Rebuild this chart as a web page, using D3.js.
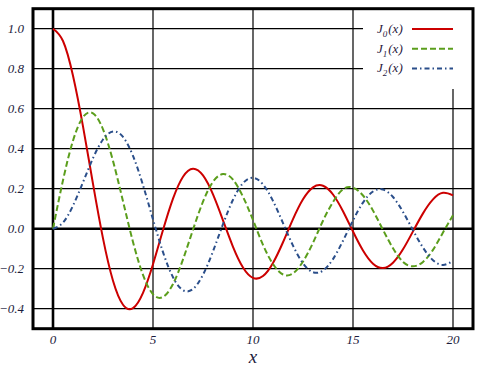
<!DOCTYPE html>
<html lang="en">
<head>
    <meta charset="utf-8">
    <title>Bessel functions</title>
    <style>
        body { margin:0; background:white; }
        svg { display:block; }
        .serif { font-family:"Liberation Serif", "Times New Roman", serif; font-style:italic; }
        .tick-label { font-size:13px; fill:#1c1c3c; }
        .legend-label { font-size:13px; fill:#2a2040; }
    </style>
</head>
<body>
<div id="canvas"></div>
<script src="https://cdnjs.cloudflare.com/ajax/libs/d3/7.8.5/d3.min.js"></script>
<script>
    // sample points, step 0.5
    var xs = d3.range(0, 20.01, 0.5);

    var j0 = [1.0, 0.9385, 0.7652, 0.5118, 0.2239, -0.0484, -0.2601, -0.3801, -0.3971, -0.3205,
              -0.1776, -0.0068, 0.1506, 0.2601, 0.3001, 0.2663, 0.1717, 0.0419, -0.0903, -0.1939,
              -0.2459, -0.2366, -0.1712, -0.0677, 0.0477, 0.1469, 0.2069, 0.2150, 0.1711, 0.0875,
              -0.0142, -0.1092, -0.1749, -0.1965, -0.1699, -0.1031, -0.0134, 0.0767, 0.1466, 0.1793,
              0.1670];

    var j1 = [0, 0.2423, 0.4401, 0.5579, 0.5767, 0.4971, 0.3391, 0.1374, -0.0660, -0.2311,
              -0.3276, -0.3414, -0.2767, -0.1538, -0.0047, 0.1352, 0.2346, 0.2731, 0.2453, 0.1600,
              0.0435, -0.0810, -0.1768, -0.2290, -0.2234, -0.1640, -0.0703, 0.0400, 0.1334, 0.1970,
              0.2051, 0.1660, 0.0904, -0.0058, -0.0977, -0.1660, -0.1880, -0.1660, -0.1057, -0.0190,
              0.0668];

    var j2 = [0, 0.0306, 0.1149, 0.2321, 0.3528, 0.4461, 0.4861, 0.4586, 0.3641, 0.2178,
              0.0466, -0.1173, -0.2429, -0.3074, -0.3014, -0.2302, -0.1130, 0.0224, 0.1448, 0.2276,
              0.2546, 0.2212, 0.1390, 0.0279, -0.0849, -0.1731, -0.2177, -0.2091, -0.1520, -0.0603,
              0.0416, 0.1306, 0.1862, 0.1958, 0.1584, 0.0841, -0.0075, -0.0946, -0.1577, -0.1812,
              -0.1603];

    var xTicks = [0, 5, 10, 15, 20];
    var yTicks = [-0.4, -0.2, 0.0, 0.2, 0.4, 0.6, 0.8, 1.0];
    var seriesNames = ["0", "1", "2"];

    var width = 487, height = 369;
    var plotL = 33, plotT = 8.7, plotR = 473, plotB = 328.7;

    var x = d3.scaleLinear().domain([-1, 21]).range([plotL, plotR]);
    var y = d3.scaleLinear().domain([-0.5, 1.1]).range([plotB, plotT]);

    var svg = d3.select("#canvas").append("svg")
        .attr("width", width)
        .attr("height", height);

    // grid
    svg.selectAll("line.hgrid")
        .data(yTicks)
      .enter().append("line")
        .attr("x1", plotL).attr("x2", plotR)
        .attr("y1", function(d) { return y(d); })
        .attr("y2", function(d) { return y(d); })
        .attr("stroke", "black").attr("stroke-width", 1.2);

    svg.selectAll("line.vgrid")
        .data(xTicks)
      .enter().append("line")
        .attr("y1", plotT).attr("y2", plotB)
        .attr("x1", function(d) { return x(d); })
        .attr("x2", function(d) { return x(d); })
        .attr("stroke", "black").attr("stroke-width", 1.2);

    // legend background hides the grid behind it
    svg.append("rect")
        .attr("x", 363).attr("y", plotT)
        .attr("width", plotR - 363).attr("height", 89 - plotT)
        .attr("fill", "white");

    // main axes through zero
    svg.append("line")
        .attr("x1", plotL).attr("x2", plotR)
        .attr("y1", y(0)).attr("y2", y(0))
        .attr("stroke", "black").attr("stroke-width", 2.6);
    svg.append("line")
        .attr("x1", x(0)).attr("x2", x(0))
        .attr("y1", plotT).attr("y2", plotB)
        .attr("stroke", "black").attr("stroke-width", 2.6);

    // curves
    var series = [
      {values: j0, color: "#cc0000", dash: null},
      {values: j1, color: "#5b9e1c", dash: "6,3"},
      {values: j2, color: "#2a4e8a", dash: "5,3,1.5,3"}
    ];

    var line = d3.line()
        .x(function(d) { return x(d[0]); })
        .y(function(d) { return y(d[1]); })
        .curve(d3.curveNatural);

    series.forEach(function(s) {
      svg.append("path")
        .datum(xs.map(function(v, i) { return [v, s.values[i]]; }))
        .attr("fill", "none")
        .attr("stroke", s.color)
        .attr("stroke-width", 2)
        .attr("stroke-dasharray", s.dash)
        .attr("d", line);
    });

    // frame
    svg.append("rect")
        .attr("x", plotL).attr("y", plotT)
        .attr("width", plotR - plotL).attr("height", plotB - plotT)
        .attr("fill", "none")
        .attr("stroke", "black").attr("stroke-width", 3);

    // tick labels
    svg.selectAll("text.ylab")
        .data(yTicks)
      .enter().append("text")
        .attr("class", "serif tick-label")
        .attr("x", 24)
        .attr("y", function(d) { return y(d) + 4.5; })
        .style("text-anchor", "end")
        .text(function(d) { return d3.format(".1f")(d).replace("-", "\u2212"); });

    svg.selectAll("text.xlab")
        .data(xTicks)
      .enter().append("text")
        .attr("class", "serif tick-label")
        .attr("x", function(d) { return x(d); })
        .attr("y", 344)
        .style("text-anchor", "middle")
        .text(function(d) { return d; });

    svg.append("text")
        .attr("class", "serif")
        .attr("x", x(10))
        .attr("y", 363)
        .style("text-anchor", "middle")
        .style("font-size", "19px")
        .style("fill", "#1c1c3c")
        .text("x");

    // legend
    series.forEach(function(s, i) {
      var ly = 29 + i * 19.7;
      var t = svg.append("text")
        .attr("class", "serif legend-label")
        .attr("x", 377)
        .attr("y", ly + 4);
      t.append("tspan").text("J");
      t.append("tspan").attr("dy", 4).style("font-size", "9px").text(seriesNames[i]);
      t.append("tspan").attr("dy", -4).attr("dx", 1).text("(x)");

      svg.append("line")
        .attr("x1", 412).attr("x2", 453)
        .attr("y1", ly).attr("y2", ly)
        .attr("stroke", s.color)
        .attr("stroke-width", 2)
        .attr("stroke-dasharray", s.dash);
    });
</script>
</body>
</html>
